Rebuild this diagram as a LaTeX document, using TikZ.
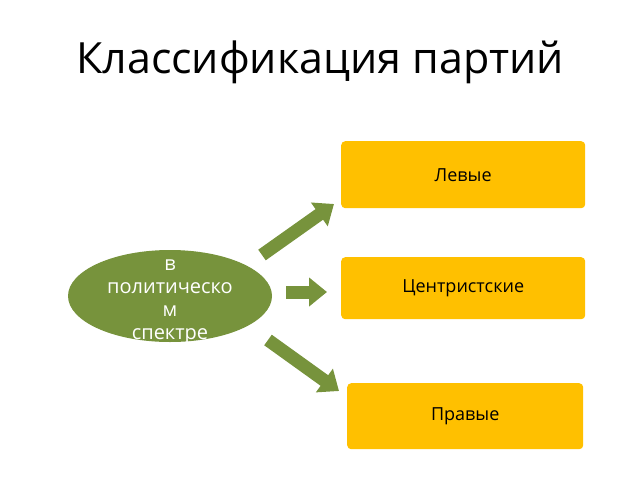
\documentclass[tikz,border=0pt]{standalone}
\usepackage{fontspec}
\setmainfont{Open Sans}
\usetikzlibrary{arrows.meta,shapes.geometric}
\definecolor{og}{HTML}{77933C}
\definecolor{gold}{HTML}{FFC000}
\begin{document}
\begin{tikzpicture}[x=1pt,y=-1pt,
  box/.style={fill=gold,rounded corners=4pt,anchor=north west},
  lbl/.style={font=\fontsize{18}{21}\selectfont},
  arr/.style={og,line width=13pt,-{Triangle[width=28pt,length=18pt]}}]
\useasboundingbox (0,0) rectangle (640,480);
\node (t) at (320,62) {\fontsize{43}{50}\selectfont Классификация партий};
\node[fill=og,ellipse,minimum width=204pt,minimum height=92pt,inner sep=0] (e) at (170,296) {};
\node[text=white,align=center,font=\fontsize{20}{23}\selectfont] (et) at (170,290) {по месту\\в\\политическо\\м\\спектре};
\node[box,minimum width=244pt,minimum height=67pt] (l) at (341,141) {};
\node[lbl] at (l.center) {Левые};
\node[box,minimum width=244pt,minimum height=62pt] (c) at (341,257) {};
\node[lbl] at (c.center) {Центристские};
\node[box,minimum width=236pt,minimum height=66pt] (r) at (347,383) {};
\node[lbl] at (r.center) {Правые};
\coordinate (a1) at (262,255); \coordinate (b1) at (334,204);
\coordinate (a2) at (286,292); \coordinate (b2) at (327,292);
\coordinate (a3) at (268,340); \coordinate (b3) at (339,391);
\draw[arr] (a1) -- (b1);
\draw[arr] (a2) -- (b2);
\draw[arr] (a3) -- (b3);
\end{tikzpicture}
\end{document}
